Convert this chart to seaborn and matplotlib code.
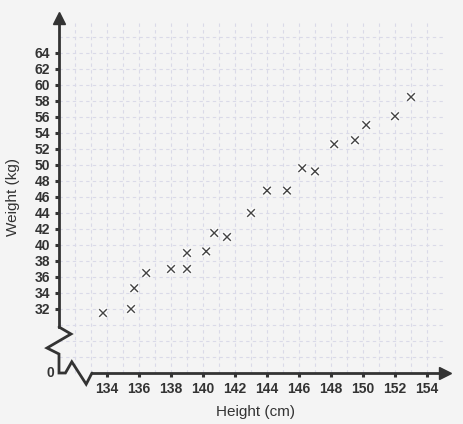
import numpy as np
import matplotlib.pyplot as plt
import seaborn as sns
from matplotlib import patheffects

# values
height_cm = [133.75, 135.5, 135.7, 136.45, 138.0, 139.0, 139.0, 140.2, 140.7, 141.5,
             143.0, 144.0, 145.25, 146.2, 147.0, 148.2, 149.5, 150.2, 152.0, 153.0]
weight_kg = [31.5, 32.0, 34.6, 36.5, 37.0, 37.0, 39.0, 39.2, 41.5, 41.0,
             44.0, 46.8, 46.8, 49.6, 49.2, 52.6, 53.1, 55.0, 56.1, 58.5]
x_ticks = list(range(134, 156, 2))
y_ticks = list(range(32, 66, 2))

bg = '#f4f4f4'
ink = '#333333'
sns.set_theme(style='white', rc={'axes.facecolor': bg, 'figure.facecolor': bg})
plt.rcParams['font.family'] = ['Liberation Sans', 'DejaVu Sans']

fig = plt.figure(figsize=(4.64, 4.24), dpi=100)
ax = fig.add_axes([11 / 464, 19 / 424, 448 / 464, 400 / 424])
ax.set_xlim(128, 156)
ax.set_ylim(20, 70)

# dashed graph-paper grid
grid_kw = dict(colors='#dadae8', linestyles=(0, (3, 3)), linewidth=0.8, zorder=1)
ax.vlines(np.arange(132, 155), 24, 68, **grid_kw)
ax.hlines(np.arange(26, 67, 2), 131, 155, **grid_kw)

# axes with a break near the origin
for s in ['top', 'right']:
    ax.spines[s].set_visible(False)
ax.spines['left'].set_position(('data', 131))
ax.spines['left'].set_bounds(29.75, 68.3)
ax.spines['bottom'].set_position(('data', 24))
ax.spines['bottom'].set_bounds(133.06, 155)
for s in ['left', 'bottom']:
    ax.spines[s].set_color(ink)
    ax.spines[s].set_linewidth(2)
    ax.spines[s].set_zorder(3)

brk_x = [131, 131.75, 130.25, 131, 131, 131.4, 131.8, 132.7, 133.06]
brk_y = [29.75, 28.875, 27.125, 26.375, 24, 24, 25.4, 22.6, 24]
ax.plot(brk_x, brk_y, color=ink, lw=2, solid_joinstyle='miter', zorder=3, clip_on=False)
ax.plot(131, 68.4, marker='^', ms=8, color=ink, zorder=3, clip_on=False)
ax.plot(155.1, 24, marker='>', ms=8, color=ink, zorder=3, clip_on=False)

ax.set_xticks(x_ticks)
ax.set_yticks(y_ticks)
ax.tick_params(bottom=True, left=True, direction='out', length=2.8, width=2.2,
               color=ink, labelsize=10, pad=3.5, labelcolor=ink)
for lbl in ax.get_xticklabels() + ax.get_yticklabels():
    lbl.set_fontweight('bold')
ax.text(130.7, 24, '0', ha='right', va='center', fontsize=10, fontweight='bold', color=ink)

sns.scatterplot(x=height_cm, y=weight_kg, marker='x', s=30, color='#444444',
                linewidth=1.0, ax=ax, zorder=4)
ax.collections[-1].set_path_effects([patheffects.withStroke(linewidth=3, foreground='white')])

ax.set_xlabel('Height (cm)', fontsize=11, color=ink)
ax.xaxis.label.set_verticalalignment('center')
ax.xaxis.set_label_coords(0.546, -0.0175)
ax.set_ylabel('Weight (kg)', fontsize=11, color=ink)
ax.yaxis.label.set_verticalalignment('center')
ax.yaxis.set_label_coords(0.004, 0.52)

fig.savefig('out.png', dpi=100, facecolor=bg)
